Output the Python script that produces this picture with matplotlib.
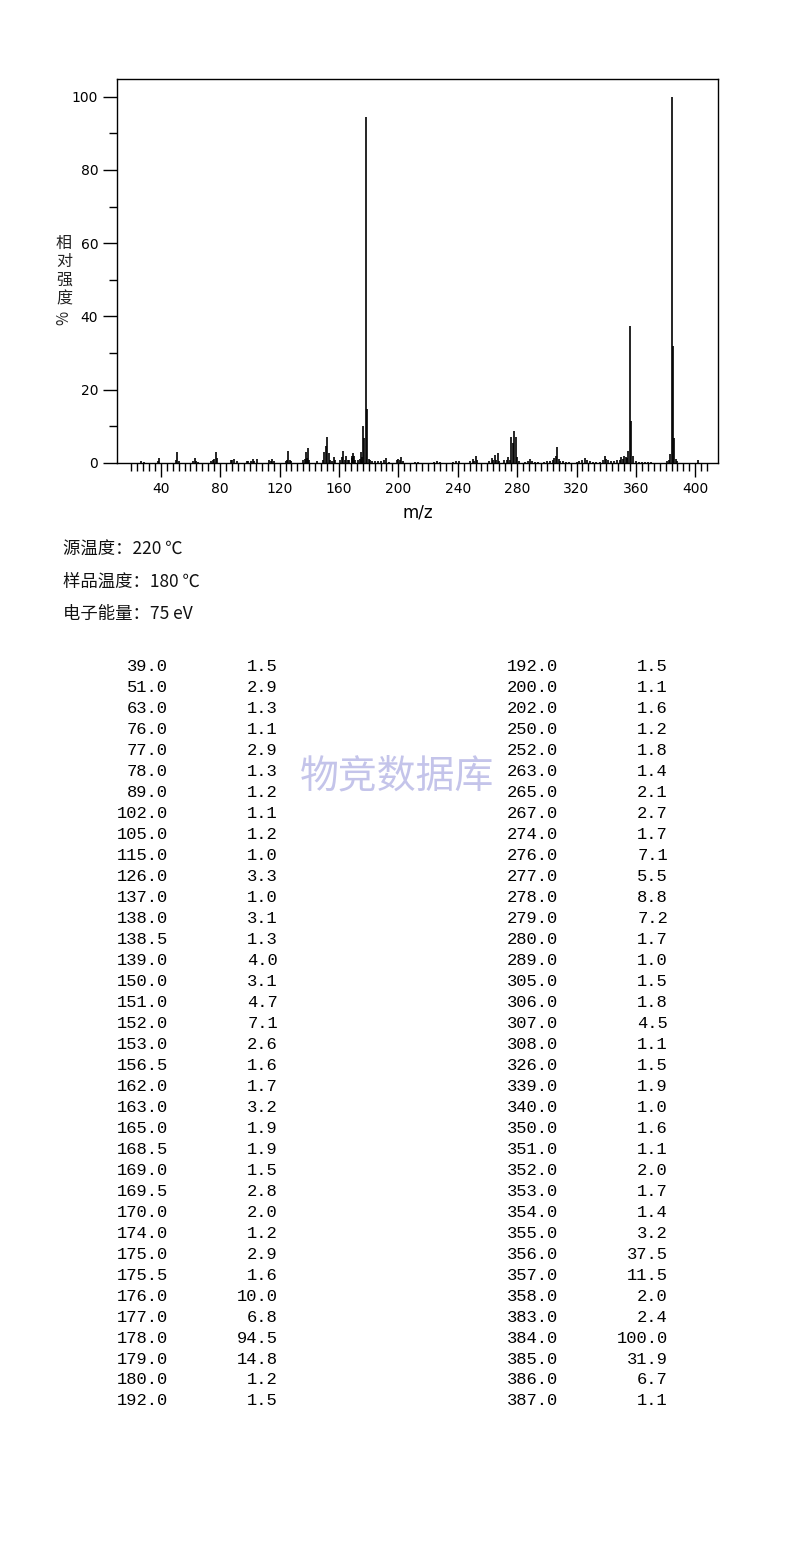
import matplotlib
matplotlib.use('Agg')
import matplotlib.pyplot as plt
from matplotlib.ticker import MultipleLocator, FixedLocator

plt.rcParams['font.family'] = ['DejaVu Sans']

# 质谱表格数据 (m/z, 相对强度)
left_mz = [39.0, 51.0, 63.0, 76.0, 77.0, 78.0, 89.0, 102.0, 105.0, 115.0, 126.0, 137.0,
           138.0, 138.5, 139.0, 150.0, 151.0, 152.0, 153.0, 156.5, 162.0, 163.0, 165.0, 168.5,
           169.0, 169.5, 170.0, 174.0, 175.0, 175.5, 176.0, 177.0, 178.0, 179.0, 180.0, 192.0]
left_int = [1.5, 2.9, 1.3, 1.1, 2.9, 1.3, 1.2, 1.1, 1.2, 1.0, 3.3, 1.0,
            3.1, 1.3, 4.0, 3.1, 4.7, 7.1, 2.6, 1.6, 1.7, 3.2, 1.9, 1.9,
            1.5, 2.8, 2.0, 1.2, 2.9, 1.6, 10.0, 6.8, 94.5, 14.8, 1.2, 1.5]
right_mz = [192.0, 200.0, 202.0, 250.0, 252.0, 263.0, 265.0, 267.0, 274.0, 276.0, 277.0, 278.0,
            279.0, 280.0, 289.0, 305.0, 306.0, 307.0, 308.0, 326.0, 339.0, 340.0, 350.0, 351.0,
            352.0, 353.0, 354.0, 355.0, 356.0, 357.0, 358.0, 383.0, 384.0, 385.0, 386.0, 387.0]
right_int = [1.5, 1.1, 1.6, 1.2, 1.8, 1.4, 2.1, 2.7, 1.7, 7.1, 5.5, 8.8,
             7.2, 1.7, 1.0, 1.5, 1.8, 4.5, 1.1, 1.5, 1.9, 1.0, 1.6, 1.1,
             2.0, 1.7, 1.4, 3.2, 37.5, 11.5, 2.0, 2.4, 100.0, 31.9, 6.7, 1.1]

# 图中小于1%的小峰 (目测)
small_mz = [27, 29, 38, 50, 52, 62, 64, 65, 74, 75, 87, 88, 91, 98, 99, 101, 103, 113, 114, 116,
            124, 125, 127, 128, 136, 140, 145, 149, 154, 155, 157, 161, 164, 166, 167, 171, 173,
            181, 182, 184, 186, 188, 190, 194, 199, 201, 203, 211, 213, 224, 226, 228, 237, 239,
            241, 248, 251, 253, 261, 264, 266, 268, 271, 273, 275, 281, 285, 287, 290, 292, 294,
            298, 300, 302, 304, 309, 311, 313, 315, 320, 322, 324, 327, 329, 331, 333, 336, 338,
            341, 343, 345, 347, 349, 360, 362, 364, 366, 368, 370, 381, 382, 388, 402]
small_int = [0.5, 0.4, 0.6, 0.8, 0.6, 0.5, 0.6, 0.4, 0.6, 0.8, 0.7, 0.9, 0.5, 0.6, 0.6, 0.5, 0.6,
             0.7, 0.5, 0.6, 0.6, 0.8, 0.9, 0.6, 0.7, 0.8, 0.6, 0.9, 0.8, 0.6, 0.7, 0.9, 0.8, 0.7,
             0.9, 0.8, 0.8, 0.8, 0.5, 0.6, 0.6, 0.5, 0.7, 0.4, 0.7, 0.9, 0.6, 0.3, 0.4, 0.4, 0.5,
             0.3, 0.4, 0.5, 0.6, 0.6, 0.6, 0.8, 0.5, 0.7, 0.9, 0.6, 0.7, 0.8, 0.9, 0.6, 0.4, 0.5,
             0.6, 0.4, 0.3, 0.4, 0.5, 0.6, 0.9, 0.6, 0.5, 0.4, 0.4, 0.4, 0.5, 0.8, 0.7, 0.6, 0.4,
             0.4, 0.4, 0.7, 0.8, 0.5, 0.5, 0.9, 0.9, 0.5, 0.4, 0.4, 0.3, 0.3, 0.3, 0.6, 0.9, 0.5,
             0.8]

info_lines = ['源温度：220 ℃', '样品温度：180 ℃', '电子能量：75 eV']

W, H = 794, 1559


def px(x, y):  # 像素坐标 -> figure坐标
    return x / W, 1 - y / H


fig = plt.figure(figsize=(W / 100, H / 100), dpi=100)
ax = fig.add_axes([117 / W, 1 - 463 / H, (718 - 117) / W, (463 - 79) / H])

peak_mz = left_mz + right_mz[1:] + small_mz
peak_int = left_int + right_int[1:] + small_int
ax.vlines(peak_mz, 0, peak_int, color='black', linewidth=1.2)

ax.set_xlim(10.5, 415.3)
ax.set_ylim(0, 104.8)
ax.xaxis.set_major_locator(FixedLocator([40, 80, 120, 160, 200, 240, 280, 320, 360, 400]))
ax.xaxis.set_minor_locator(FixedLocator([v for v in range(20, 412, 4)]))
ax.yaxis.set_major_locator(MultipleLocator(20))
ax.yaxis.set_minor_locator(MultipleLocator(10))
ax.tick_params(axis='both', which='major', direction='out', length=10, width=1,
               labelsize=10, colors='black')
ax.tick_params(axis='both', which='minor', direction='out', length=6, width=1)
ax.tick_params(axis='x', which='major', pad=4)
for s in ax.spines.values():
    s.set_linewidth(1)
ax.set_xlabel('m/z', fontsize=12, labelpad=5)

# 纵轴标题 相对强度%
cjk = ['Noto Sans CJK SC', 'DejaVu Sans']
for i, ch in enumerate('相对强度'):
    fig.text(*px(64, 243 + i * 18.7), ch, family=cjk, fontsize=11.5,
             ha='center', va='center', color='#222222')
fig.text(*px(64, 318), '%', family=cjk, fontsize=11, rotation=90,
         ha='center', va='center', color='#222222')

for i, line in enumerate(info_lines):
    fig.text(*px(63, 550 + i * 32), line, family=cjk, fontsize=12.5,
             ha='left', va='center', color='#111111')

# 水印
fig.text(*px(397, 778), '物竞数据库', family=cjk, fontsize=28,
         ha='center', va='center', color='#c4c4ea')

# 峰表
mono = 'Liberation Mono'
row0, dy = 667, 20.97
for i in range(len(left_mz)):
    y = row0 + i * dy
    fig.text(*px(168, y), f'{left_mz[i]:.1f}', family=mono, fontsize=12.3, ha='right', va='center')
    fig.text(*px(278, y), f'{left_int[i]:.1f}', family=mono, fontsize=12.3, ha='right', va='center')
for i in range(len(right_mz)):
    y = row0 + i * dy
    fig.text(*px(558, y), f'{right_mz[i]:.1f}', family=mono, fontsize=12.3, ha='right', va='center')
    fig.text(*px(668, y), f'{right_int[i]:.1f}', family=mono, fontsize=12.3, ha='right', va='center')

fig.savefig('out.png', dpi=100)
